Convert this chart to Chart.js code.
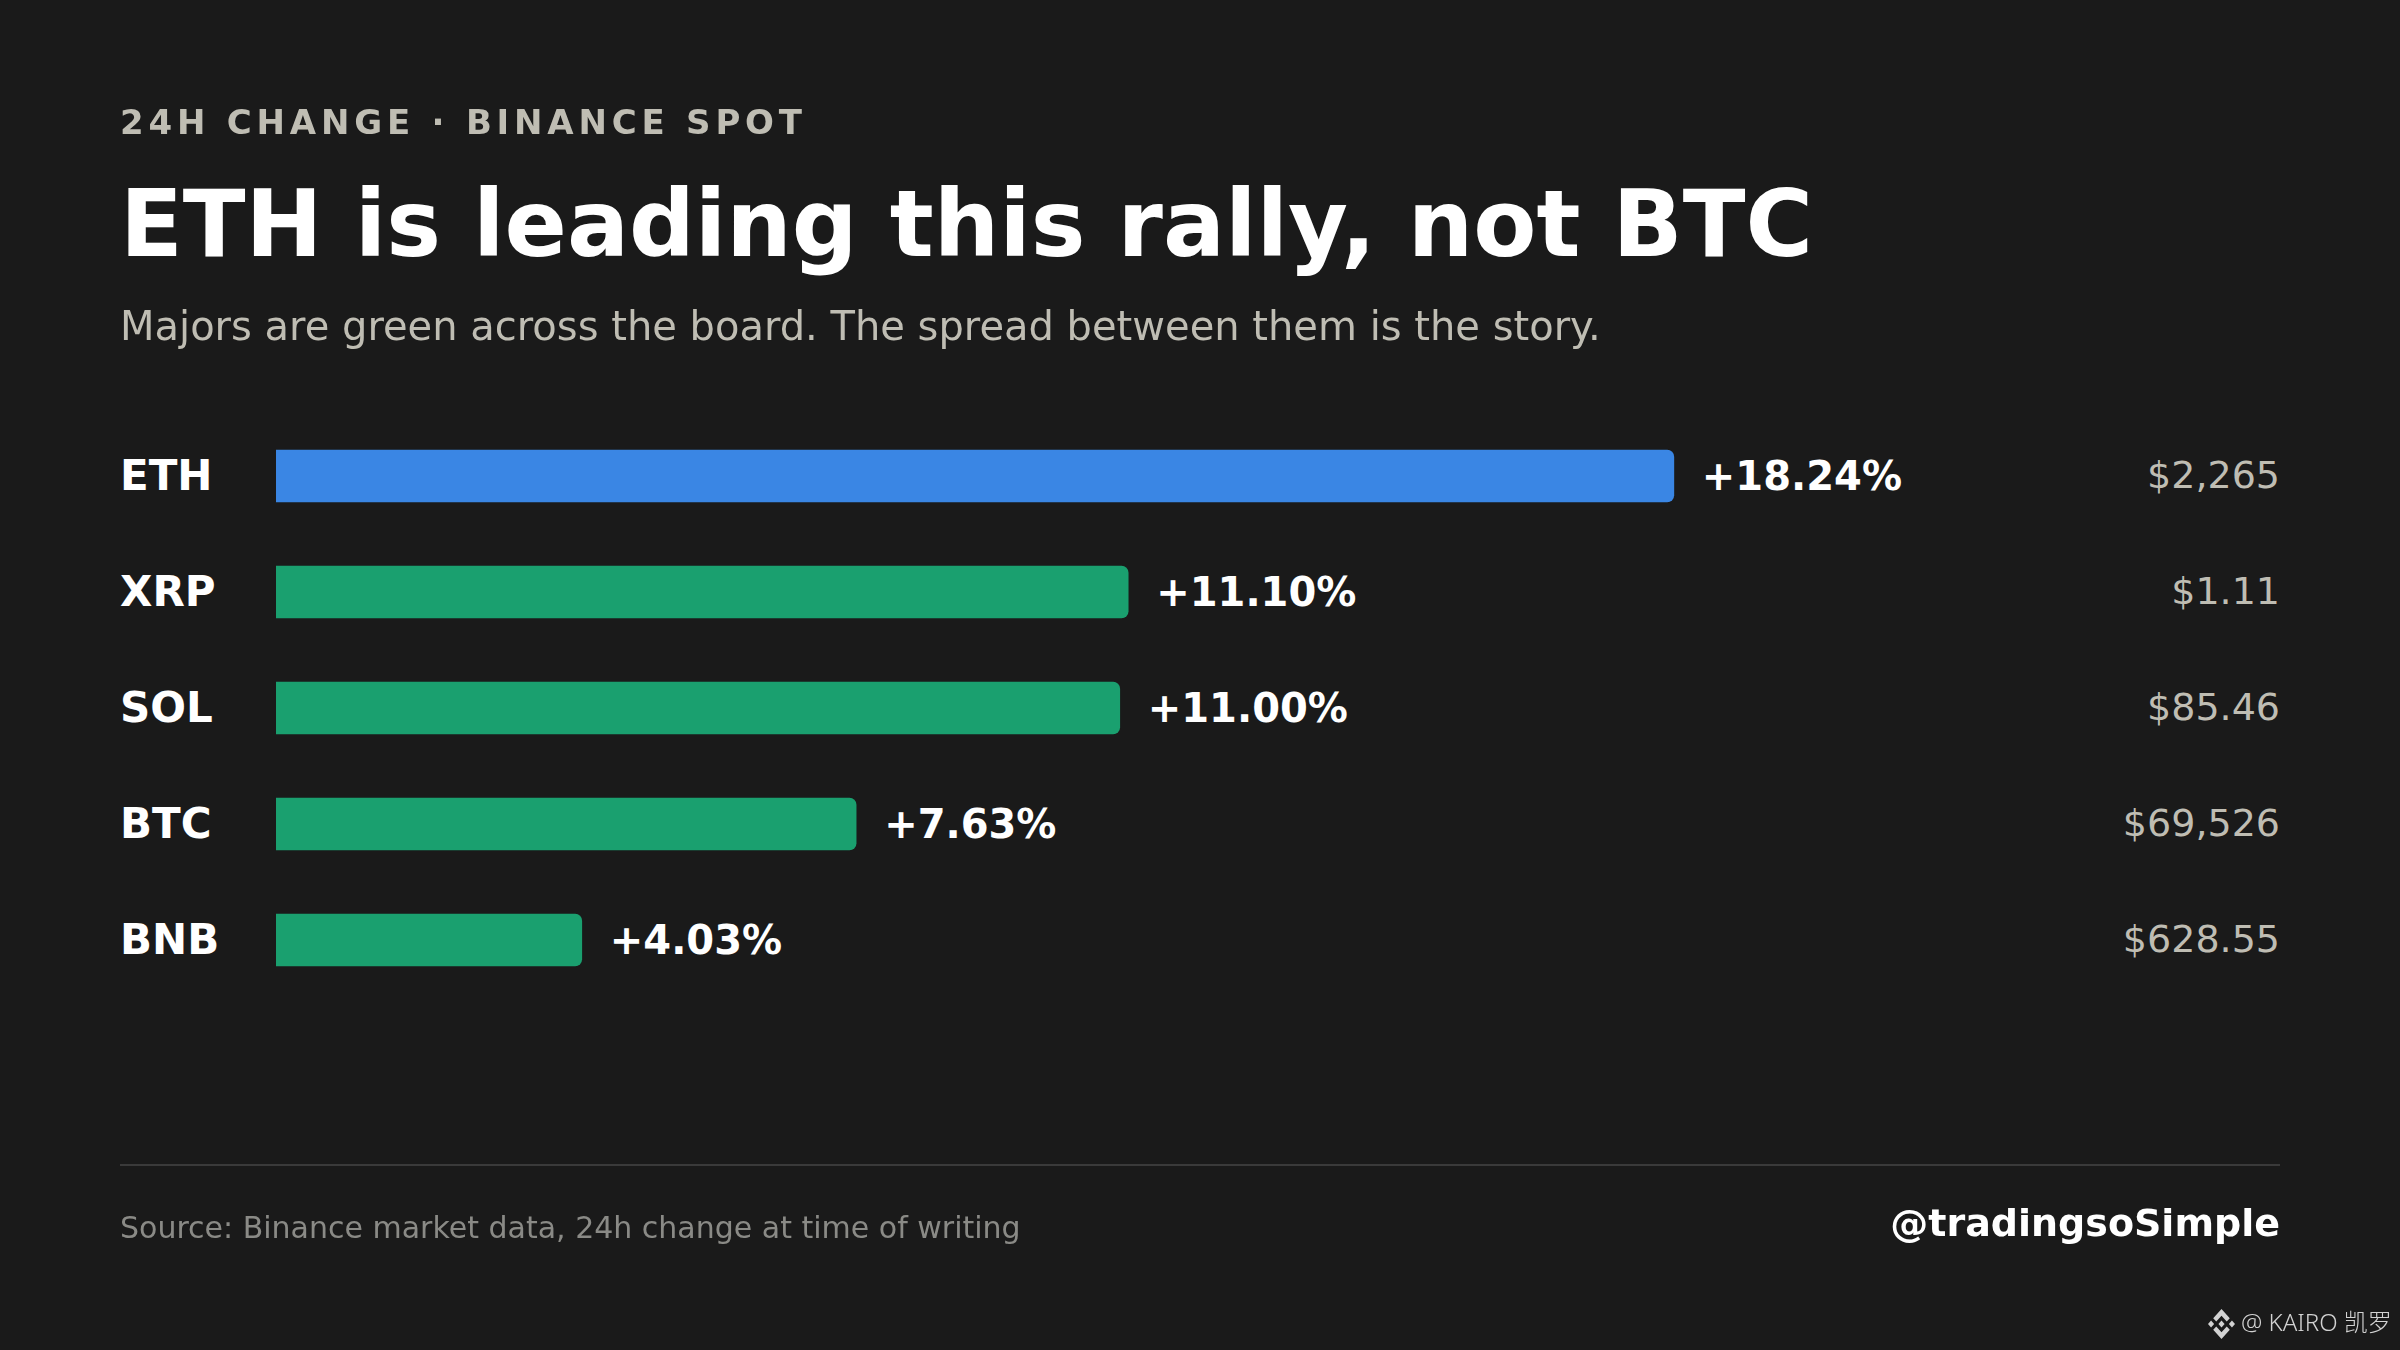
<!DOCTYPE html>
<html><head><meta charset="utf-8">
<script src="https://cdn.jsdelivr.net/npm/chart.js@4"></script>
<style>
html,body{margin:0;padding:0;background:#1a1a1a;width:2400px;height:1350px;overflow:hidden;font-family:"DejaVu Sans",sans-serif}
canvas{position:absolute;left:0;top:0}
.t{position:absolute;white-space:nowrap;line-height:1}
#eyebrow{left:120px;top:105px;font-size:34px;font-weight:700;letter-spacing:4.8px;color:#bfbdb3}
#title{left:120px;top:179px;font-size:92px;font-weight:700;color:#fff}
#sub{left:120px;top:306px;font-size:40px;color:#bfbdb3}
#rule{position:absolute;left:120px;top:1164px;width:2160px;height:2px;background:#3a3a3a}
#source{left:120px;top:1213px;font-size:30px;color:#8a8a86}
#handle{right:120px;top:1204px;font-size:38px;font-weight:700;color:#fff}
#mark{position:absolute;left:2208px;top:1309px;width:27px;height:30px;filter:blur(.3px)}
#wm{left:2241px;top:1310px;font-size:24px;color:#d2d2d2;font-family:"Noto Sans","Noto Sans CJK SC",sans-serif;font-weight:300;filter:blur(.3px)}
</style></head><body>
<canvas id="c" width="2400" height="1350"></canvas>
<div class="t" id="eyebrow">24H CHANGE · BINANCE SPOT</div>
<div class="t" id="title">ETH is leading this rally, not BTC</div>
<div class="t" id="sub">Majors are green across the board. The spread between them is the story.</div>
<div id="rule"></div>
<div class="t" id="source">Source: Binance market data, 24h change at time of writing</div>
<div class="t" id="handle">@tradingsoSimple</div>
<svg id="mark" viewBox="0 0 126.610 126.610" preserveAspectRatio="none"><g fill="#d2d2d2"><path d="M38.730 53.200 63.310 28.620 87.900 53.210 102.200 38.910 63.310 0 24.420 38.910z"/><path d="M0 63.310 14.300 49.010 28.600 63.310 14.300 77.610z"/><path d="M38.730 73.410 63.310 97.990 87.900 73.400 102.200 87.690 63.310 126.610 24.420 87.700z"/><path d="M98.010 63.310 112.310 49.010 126.610 63.310 112.310 77.610z"/><path d="M77.830 63.300 63.310 48.780 48.800 63.300 63.310 77.820z"/></g></svg>
<div class="t" id="wm">@ KAIRO 凯罗</div>
<script>
const categories = ["ETH","XRP","SOL","BTC","BNB"];
// Bar lengths as measured in the picture; the printed labels are kept separately.
const barLengths = [18.24,11.12,11.01,7.57,3.99];
const changeLabels = ["+18.24%","+11.10%","+11.00%","+7.63%","+4.03%"];
const prices = ["$2,265","$1.11","$85.46","$69,526","$628.55"];
const barColors = ["#3a86e4","#1aa06f","#1aa06f","#1aa06f","#1aa06f"];
const canvas = document.getElementById('c');
const ctx0 = canvas.getContext('2d',{alpha:false});
const bg = {id:'bg',beforeDraw(ch){const c=ch.ctx;c.save();c.fillStyle='#1a1a1a';c.fillRect(0,0,ch.width,ch.height);c.restore();}};
const valueLabels = {id:'valueLabels',afterDatasetsDraw(ch){
  const c=ch.ctx;c.save();c.font='bold 40px "DejaVu Sans"';c.fillStyle='#fff';c.textAlign='left';c.textBaseline='middle';
  ch.getDatasetMeta(0).data.forEach((b,i)=>c.fillText(changeLabels[i],b.x+28,b.y+4));
  c.restore();
}};
new Chart(canvas,{
  type:'bar',
  data:{labels:categories,datasets:[{data:barLengths,backgroundColor:barColors,barThickness:52,
    borderRadius:{topRight:7,bottomRight:7,topLeft:0,bottomLeft:0},borderSkipped:false}]},
  plugins:[bg,valueLabels],
  options:{
    indexAxis:'y',responsive:false,animation:false,devicePixelRatio:1,
    layout:{padding:{left:120,right:120,top:418,bottom:352}},
    plugins:{legend:{display:false},tooltip:{enabled:false},title:{display:false}},
    scales:{
      x:{display:false,min:0,max:22},
      y:{position:'left',grid:{display:false},border:{display:false},
        afterFit(s){s.width=156},
        ticks:{crossAlign:'far',padding:0,labelOffset:3,color:'#fff',font:{family:'"DejaVu Sans"',size:42,weight:'bold'}}},
      y2:{position:'right',type:'category',labels:prices,offset:true,grid:{display:false},border:{display:false},
        afterFit(s){s.width=318},
        ticks:{crossAlign:'far',padding:0,labelOffset:2,color:'#bfbdb3',font:{family:'"DejaVu Sans"',size:38}}}
    }
  }
});
</script>
</body></html>
